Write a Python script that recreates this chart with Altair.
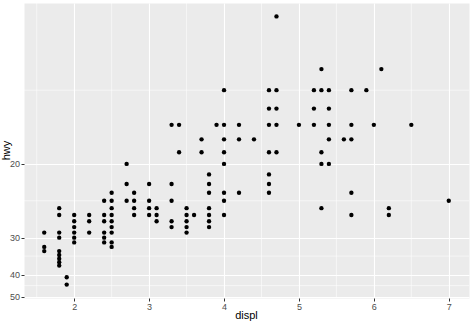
import altair as alt
import pandas as pd

# unique (displ, hwy) points
displ = [1.6, 1.6, 1.6,
         1.8, 1.8, 1.8, 1.8, 1.8, 1.8, 1.8, 1.8, 1.8,
         1.9, 1.9,
         2.0, 2.0, 2.0, 2.0, 2.0, 2.0,
         2.2, 2.2, 2.2,
         2.4, 2.4, 2.4, 2.4, 2.4, 2.4,
         2.5, 2.5, 2.5, 2.5, 2.5, 2.5, 2.5, 2.5, 2.5,
         2.7, 2.7, 2.7,
         2.8, 2.8, 2.8, 2.8,
         3.0, 3.0, 3.0, 3.0,
         3.1, 3.1, 3.1,
         3.3, 3.3, 3.3, 3.3, 3.3,
         3.4, 3.4,
         3.5, 3.5, 3.5, 3.5, 3.5,
         3.6,
         3.7, 3.7,
         3.8, 3.8, 3.8, 3.8, 3.8, 3.8, 3.8,
         3.9,
         4.0, 4.0, 4.0, 4.0, 4.0, 4.0, 4.0, 4.0,
         4.2, 4.2, 4.2,
         4.4,
         4.6, 4.6, 4.6, 4.6, 4.6, 4.6, 4.6,
         4.7, 4.7, 4.7, 4.7, 4.7,
         5.0,
         5.2, 5.2, 5.2,
         5.3, 5.3, 5.3, 5.3, 5.3,
         5.4, 5.4, 5.4, 5.4, 5.4,
         5.6,
         5.7, 5.7, 5.7, 5.7, 5.7,
         5.9,
         6.0,
         6.1,
         6.2, 6.2,
         6.5,
         7.0]
hwy = [29, 32, 33,
       25, 26, 29, 30, 33, 34, 35, 36, 37,
       41, 44,
       26, 27, 28, 29, 30, 31,
       26, 27, 29,
       24, 26, 27, 29, 30, 31,
       23, 24, 25, 26, 27, 28, 29, 31, 32,
       20, 22, 24,
       23, 24, 25, 26,
       22, 24, 25, 26,
       25, 26, 27,
       17, 22, 24, 27, 28,
       17, 19,
       25, 26, 27, 28, 29,
       26,
       18, 19,
       21, 22, 23, 25, 26, 27, 28,
       17,
       15, 17, 18, 19, 20, 23, 24, 26,
       17, 18, 23,
       18,
       15, 16, 17, 19, 21, 22, 23,
       12, 15, 16, 17, 19,
       17,
       15, 16, 17,
       14, 15, 19, 20, 25,
       15, 16, 17, 18, 20,
       18,
       15, 17, 18, 23, 26,
       15,
       17,
       14,
       25, 26,
       17,
       24]

x_breaks = [2, 3, 4, 5, 6, 7]
x_minor = [1.5, 2.5, 3.5, 4.5, 5.5, 6.5]
y_breaks = [20, 30, 40, 50]
y_minor_hwy = [15, 24, 240 / 7, 1 / 0.0225]  # midpoints in reciprocal space

df = pd.DataFrame({"displ": displ, "hwy": hwy})
df["inv"] = 1 / df["hwy"]

xmin, xmax = min(displ), max(displ)
xpad = (xmax - xmin) * 0.05
ilo, ihi = 1 / max(hwy), 1 / min(hwy)
ipad = (ihi - ilo) * 0.05

xscale = alt.Scale(domain=[xmin - xpad, xmax + xpad], nice=False, zero=False)
yscale = alt.Scale(domain=[ilo - ipad, ihi + ipad], nice=False, zero=False)

xaxis = alt.Axis(values=x_breaks, title="displ", grid=True,
                 titleX=222, titleY=17, titleAlign="center", titleBaseline="middle")
yaxis = alt.Axis(values=[1 / v for v in y_breaks], labelExpr="round(1/datum.value)",
                 title="hwy", grid=True,
                 titleX=-18, titleY=147, titleAngle=-90, titleAlign="center", titleBaseline="middle")

minor_x_df = pd.DataFrame({"displ": x_minor})
minor_y_df = pd.DataFrame({"inv": [1 / v for v in y_minor_hwy]})

vminor = alt.Chart(minor_x_df).mark_rule(color="white", strokeWidth=0.55).encode(
    x=alt.X("displ:Q", scale=xscale, axis=xaxis)
)
hminor = alt.Chart(minor_y_df).mark_rule(color="white", strokeWidth=0.55).encode(
    y=alt.Y("inv:Q", scale=yscale, axis=yaxis)
)

points = alt.Chart(df).mark_circle(color="black", opacity=1, size=19).encode(
    x=alt.X("displ:Q", scale=xscale, axis=xaxis),
    y=alt.Y("inv:Q", scale=yscale, axis=yaxis),
)

chart = alt.layer(vminor, hminor, points).properties(
    width=445, height=295,
    autosize=alt.AutoSizeParams(type="none"),
    padding={"left": 24, "top": 3, "right": 5, "bottom": 24},
    background="white",
).configure_view(
    fill="#EBEBEB", stroke="transparent"
).configure_axis(
    gridColor="white", gridWidth=1.1, gridOpacity=1,
    domain=False,
    tickColor="#333333", tickSize=3, tickWidth=1,
    labelFont="Liberation Sans", labelFontSize=9, labelColor="#4D4D4D", labelPadding=1.5,
    titleFont="Liberation Sans", titleFontSize=11, titleFontWeight="normal", titleColor="black",
)

chart.save("out.html", embed_options={"renderer": "svg", "actions": False})
